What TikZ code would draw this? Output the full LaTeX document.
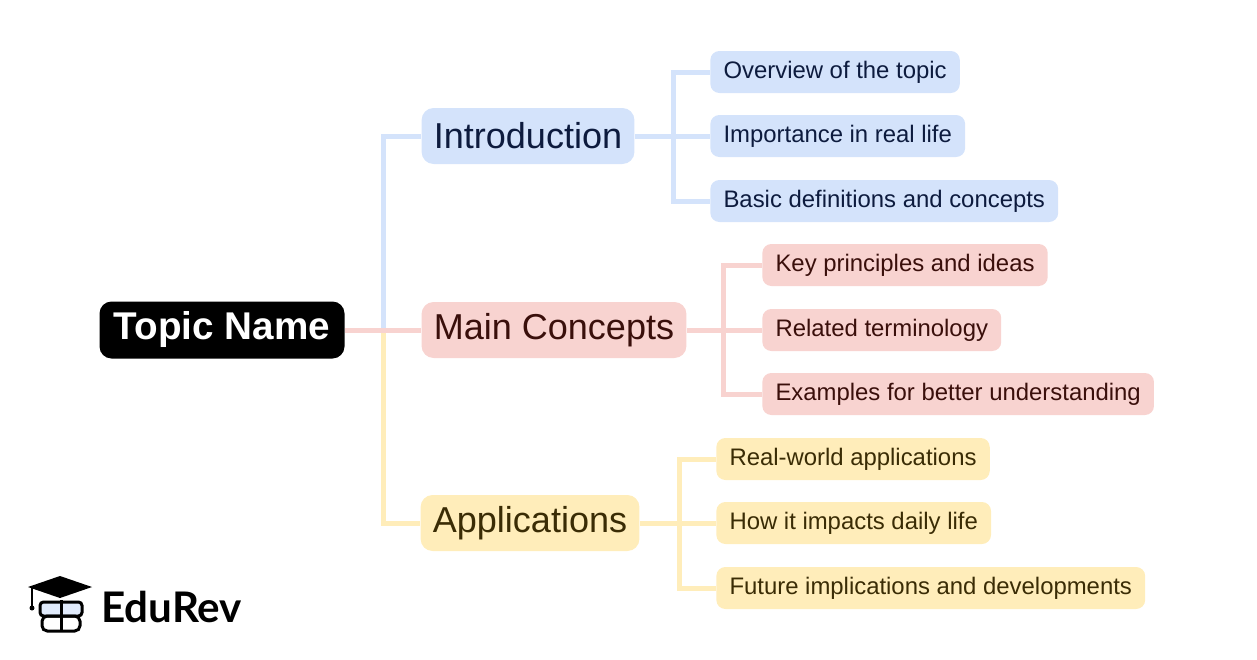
\documentclass[tikz,border=0pt]{standalone}
\usepackage{fontspec}
\setmainfont{Liberation Sans}
\newfontfamily\logofont{Lato}
\definecolor{introfill}{HTML}{D4E3FB}
\definecolor{mainfill}{HTML}{F8D3D0}
\definecolor{appfill}{HTML}{FFEDBA}
\definecolor{introtext}{HTML}{0D1B3E}
\definecolor{maintext}{HTML}{3A0F0B}
\definecolor{apptext}{HTML}{3A2C05}
\begin{document}
\begin{tikzpicture}[x=0.02cm, y=-0.02cm,
    topic/.style = {fill=black, text=white, rounded corners=12*0.02cm, minimum height=57*0.02cm, minimum width=245*0.02cm, inner xsep=0pt, font=\fontsize{22}{26}\selectfont\bfseries},
    branch/.style = {rounded corners=12*0.02cm, minimum height=56*0.02cm, inner xsep=7pt, font=\fontsize{20.5}{24}\selectfont},
    leaf/.style = {rounded corners=9*0.02cm, minimum height=42*0.02cm, inner xsep=7.5pt, anchor=west, font=\fontsize{13.6}{16}\selectfont},
    link/.style = {line width=5*0.02cm}]

    \useasboundingbox (0,0) rectangle (1257,659);

    \coordinate (j0) at (383,330);
    \coordinate (jI) at (673,136);
    \coordinate (jM) at (723,330);
    \coordinate (jA) at (679,523);

    \node[topic] (topic) at (222,330) {Topic Name};
    \node[branch, fill=introfill, text=introtext] (intro) at (528,136) {Introduction};
    \node[branch, fill=mainfill, text=maintext] (main) at (554,330) {Main Concepts};
    \node[branch, fill=appfill, text=apptext] (apps) at (530,523) {Applications};

    \node[leaf, fill=introfill, text=introtext] (i1) at (710,72) {Overview of the topic};
    \node[leaf, fill=introfill, text=introtext] (i2) at (710,136) {Importance in real life};
    \node[leaf, fill=introfill, text=introtext] (i3) at (710,201) {Basic definitions and concepts};

    \node[leaf, fill=mainfill, text=maintext] (m1) at (762,265) {Key principles and ideas};
    \node[leaf, fill=mainfill, text=maintext] (m2) at (762,330) {Related terminology};
    \node[leaf, fill=mainfill, text=maintext] (m3) at (762,394) {Examples for better understanding};

    \node[leaf, fill=appfill, text=apptext] (a1) at (716,459) {Real-world applications};
    \node[leaf, fill=appfill, text=apptext] (a2) at (716,523) {How it impacts daily life};
    \node[leaf, fill=appfill, text=apptext] (a3) at (716,588) {Future implications and developments};

    \draw[link, introfill] (j0) |- (intro.west);
    \draw[link, appfill] (j0) |- (apps.west);
    \draw[link, mainfill] (topic.east) -- (main.west);

    \draw[link, introfill] (intro.east) -- (jI);
    \foreach \c in {i1,i2,i3} \draw[link, introfill] (jI) |- (\c.west);
    \draw[link, mainfill] (main.east) -- (jM);
    \foreach \c in {m1,m2,m3} \draw[link, mainfill] (jM) |- (\c.west);
    \draw[link, appfill] (apps.east) -- (jA);
    \foreach \c in {a1,a2,a3} \draw[link, appfill] (jA) |- (\c.west);

    % logo
    \fill[black] (28,587) -- (60,576) -- (92,587) -- (60,598) -- cycle;
    \draw[line width=0.04cm] (32,588) -- (32,606);
    \fill[black] (32,608) circle (2.5);
    \draw[line width=0.06cm, fill=introfill!70, rounded corners=2] (40,602) rectangle (82,616);
    \draw[line width=0.06cm, rounded corners=3] (42,616) rectangle (80,631);
    \draw[line width=0.06cm] (61,600) -- (61,631);
    \node[anchor=west, font=\logofont\fontsize{24}{28}\selectfont\bfseries] (logo) at (95,607) {EduRev};
\end{tikzpicture}
\end{document}
